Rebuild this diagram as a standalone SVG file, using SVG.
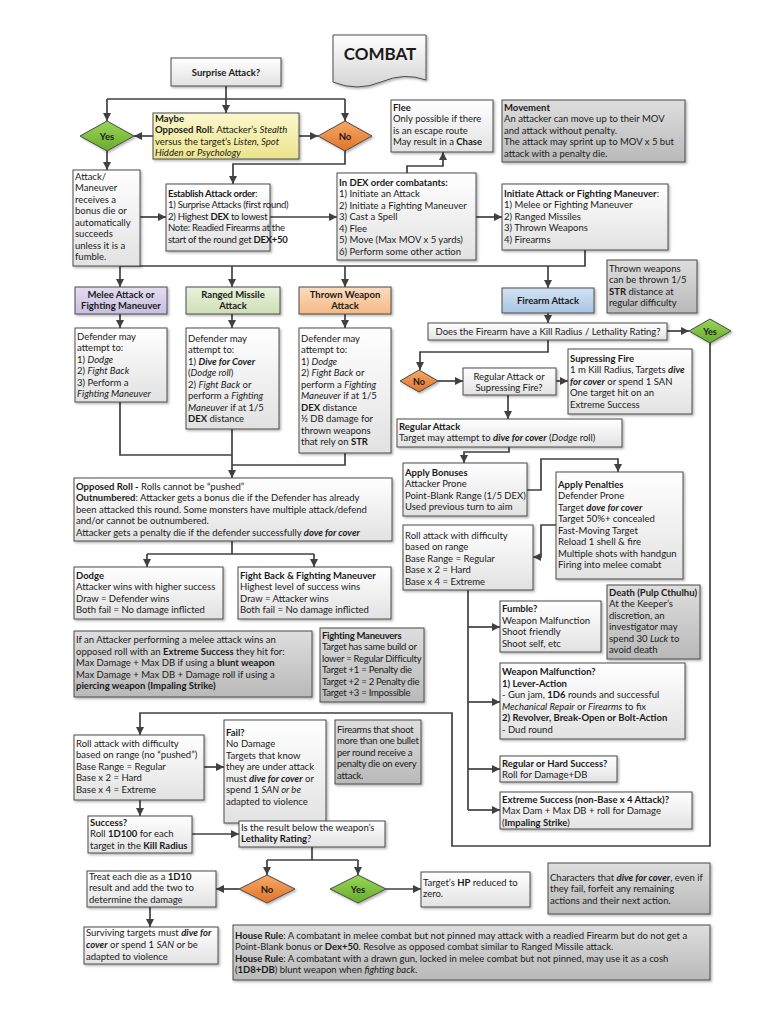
<svg xmlns="http://www.w3.org/2000/svg" width="768" height="1024" viewBox="0 0 768 1024">
<defs>
<linearGradient id="gW" x1="0" y1="0" x2="0" y2="1"><stop offset="0" stop-color="#ffffff"/><stop offset="1" stop-color="#e2e2e2"/></linearGradient>
<linearGradient id="gT" x1="0" y1="0" x2="0" y2="1"><stop offset="0" stop-color="#ffffff"/><stop offset="1" stop-color="#d4d4d4"/></linearGradient>
<linearGradient id="gG" x1="0" y1="0" x2="0" y2="1"><stop offset="0" stop-color="#dedede"/><stop offset="1" stop-color="#b9b9b9"/></linearGradient>
<linearGradient id="gY" x1="0" y1="0" x2="0" y2="1"><stop offset="0" stop-color="#fbf8cf"/><stop offset="1" stop-color="#ece38c"/></linearGradient>
<linearGradient id="gP" x1="0" y1="0" x2="0" y2="1"><stop offset="0" stop-color="#e3ddf0"/><stop offset="1" stop-color="#c9bfe0"/></linearGradient>
<linearGradient id="gR" x1="0" y1="0" x2="0" y2="1"><stop offset="0" stop-color="#e9f1dc"/><stop offset="1" stop-color="#cfdfb6"/></linearGradient>
<linearGradient id="gO" x1="0" y1="0" x2="0" y2="1"><stop offset="0" stop-color="#fcdcc0"/><stop offset="1" stop-color="#f4b984"/></linearGradient>
<linearGradient id="gB" x1="0" y1="0" x2="0" y2="1"><stop offset="0" stop-color="#d3e3f3"/><stop offset="1" stop-color="#a8c5e3"/></linearGradient>
<linearGradient id="gYes" x1="0" y1="0" x2="0" y2="1"><stop offset="0" stop-color="#9ad657"/><stop offset="1" stop-color="#68ab2c"/></linearGradient>
<linearGradient id="gNo" x1="0" y1="0" x2="0" y2="1"><stop offset="0" stop-color="#f6a867"/><stop offset="1" stop-color="#e0742a"/></linearGradient>
<marker id="ar" viewBox="0 0 10 10" refX="10" refY="5" markerWidth="8" markerHeight="8" markerUnits="userSpaceOnUse" orient="auto"><path d="M0,0 L10,5 L0,10 z" fill="#404040"/></marker>
<filter id="sh" x="-10%" y="-10%" width="130%" height="140%"><feDropShadow dx="1.5" dy="1.5" stdDeviation="1" flood-color="#000" flood-opacity="0.3"/></filter>
</defs>
<style>
.n rect, .n polygon, .n path { stroke:#4a4a4a; stroke-width:1; filter:url(#sh); }
.w { fill:url(#gW); } .g { fill:url(#gG); }
text { font-family: Lato, "Liberation Sans", sans-serif; font-size:9.5px; fill:#1a1a1a; }
.b { font-weight:700; } .i { font-style:italic; } .bi { font-weight:700; font-style:italic; }
.c { text-anchor:middle; }
.tight text { letter-spacing:-0.25px; }
.cn path { fill:none; stroke:#404040; stroke-width:1.7; }
.cn path.a { marker-end:url(#ar); }
</style>
<rect width="768" height="1024" fill="#ffffff"/>

<g id="connectors" class="cn">
<path d="M226,86 V99"/>
<path d="M107,99 H345"/>
<path class="a" d="M107,99 V121"/>
<path class="a" d="M226,99 V113"/>
<path class="a" d="M345,99 V121"/>
<path class="a" d="M153,136 H134"/>
<path class="a" d="M299,136 H318"/>
<path class="a" d="M107,151 V170"/>
<path class="a" d="M345,151 V164 H233 V184"/>
<path class="a" d="M140,217 H166"/>
<path class="a" d="M270,217 H337"/>
<path class="a" d="M407,173 V166 H443 V152"/>
<path class="a" d="M476,217 H502"/>
<path d="M585,250 V266 H120"/>
<path class="a" d="M120,266 V287"/>
<path class="a" d="M232,266 V287"/>
<path class="a" d="M345,266 V287"/>
<path class="a" d="M548,266 V288"/>
<path class="a" d="M120,314 V328"/>
<path class="a" d="M232,314 V328"/>
<path class="a" d="M345,314 V328"/>
<path d="M120,402 V455 H232"/>
<path d="M345,453 V465 H232"/>
<path class="a" d="M232,429 V478"/>
<path d="M232,541 V554"/>
<path d="M147,554 H314"/>
<path class="a" d="M147,554 V567"/>
<path class="a" d="M314,554 V567"/>
<path class="a" d="M548,313 V323"/>
<path class="a" d="M667,331 H689"/>
<path class="a" d="M548,340 V352 H420 V370"/>
<path class="a" d="M438,381 H463"/>
<path class="a" d="M556,381 H568"/>
<path class="a" d="M508,395 V419"/>
<path class="a" d="M509,447 V452 H464 V463"/>
<path class="a" d="M527,490 H541 V459 H618 V472"/>
<path class="a" d="M556,525 H541 V557 H533"/>
<path d="M468,590 V810"/>
<path class="a" d="M468,627 H500"/>
<path class="a" d="M468,702 H500"/>
<path class="a" d="M468,769 H500"/>
<path class="a" d="M468,810 H500"/>
<path class="a" d="M710,343 V846 H452 V713 H140 V735"/>
<path class="a" d="M204,767 H224"/>
<path class="a" d="M140,800 V816"/>
<path class="a" d="M192,834 H239"/>
<path d="M312,847 V860"/>
<path d="M267,860 H358"/>
<path class="a" d="M267,860 V875"/>
<path class="a" d="M358,860 V875"/>
<path class="a" d="M239,889 H216"/>
<path class="a" d="M386,889 H421"/>
<path class="a" d="M150,907 V927"/>
</g>

<g id="title" class="n"><path d="M333,35 H426 V80 Q404,72 381,82 Q357,92 333,82 Z" fill="url(#gT)"/><text x="380" y="60" class="c b" style="font-size:17px">COMBAT</text></g>

<g id="surprise" class="n"><rect x="171" y="58" width="110" height="28" class="w"/><text x="226" y="75.5" class="c b">Surprise Attack?</text></g>

<g id="maybe" class="n"><rect x="153" y="113" width="146" height="46" fill="url(#gY)"/>
<text x="155" y="121.5"><tspan class="b">Maybe</tspan></text>
<text x="155" y="133"><tspan class="b">Opposed Roll</tspan>: Attacker’s <tspan class="i">Stealth</tspan></text>
<text x="155" y="144.5">versus the target’s <tspan class="i">Listen, Spot</tspan></text>
<text x="155" y="156"><tspan class="i">Hidden</tspan> or <tspan class="i">Psychology</tspan></text></g>

<g id="yes1" class="n"><polygon points="80,136 107,121 134,136 107,151" fill="url(#gYes)"/><text x="107" y="139.5" class="c b">Yes</text></g>
<g id="no1" class="n"><polygon points="318,136 345,121 372,136 345,151" fill="url(#gNo)"/><text x="345" y="139.5" class="c b">No</text></g>

<g id="attackManeuver" class="n"><rect x="73" y="170" width="67" height="96" class="w"/>
<text x="75" y="179.5">Attack/</text><text x="75" y="191">Maneuver</text><text x="75" y="202.5">receives a</text><text x="75" y="214">bonus die or</text><text x="75" y="225.5">automatically</text><text x="75" y="237">succeeds</text><text x="75" y="248.5">unless it is a</text><text x="75" y="260">fumble.</text></g>

<g id="establish" class="n tight"><rect x="166" y="184" width="104" height="67" class="w"/>
<text x="168" y="196.5"><tspan class="b">Establish Attack order</tspan>:</text>
<text x="168" y="208">1) Surprise Attacks (first round)</text>
<text x="168" y="219.5">2) Highest <tspan class="b">DEX</tspan> to lowest</text>
<text x="168" y="231">Note: Readied Firearms at the</text>
<text x="168" y="242.5">start of the round get <tspan class="b">DEX+50</tspan></text></g>

<g id="dexOrder" class="n"><rect x="337" y="173" width="139" height="87" class="w"/>
<text x="339" y="185.5" class="b">In DEX order combatants:</text>
<text x="339" y="197">1) Initiate an Attack</text>
<text x="339" y="208.5">2) Initiate a Fighting Maneuver</text>
<text x="339" y="220">3) Cast a Spell</text>
<text x="339" y="231.5">4) Flee</text>
<text x="339" y="243">5) Move (Max MOV x 5 yards)</text>
<text x="339" y="254.5">6) Perform some other action</text></g>

<g id="flee" class="n"><rect x="391" y="100" width="102" height="52" class="w"/>
<text x="393" y="110.5" class="b">Flee</text>
<text x="393" y="122">Only possible if there</text>
<text x="393" y="133.5">is an escape route</text>
<text x="393" y="145">May result in a <tspan class="b">Chase</tspan></text></g>

<g id="movement" class="n"><rect x="502" y="100" width="183" height="62" class="g"/>
<text x="504" y="110.5" class="b">Movement</text>
<text x="504" y="122">An attacker can move up to their MOV</text>
<text x="504" y="133.5">and attack without penalty.</text>
<text x="504" y="145">The attack may sprint up to MOV x 5 but</text>
<text x="504" y="156.5">attack with a penalty die.</text></g>

<g id="initiate" class="n"><rect x="502" y="184" width="166" height="66" class="w"/>
<text x="504" y="196.5"><tspan class="b">Initiate Attack or Fighting Maneuver</tspan>:</text>
<text x="504" y="208">1) Melee or Fighting Maneuver</text>
<text x="504" y="219.5">2) Ranged Missiles</text>
<text x="504" y="231">3) Thrown Weapons</text>
<text x="504" y="242.5">4) Firearms</text></g>

<g id="thrownNote" class="n"><rect x="607" y="260" width="90" height="53" class="g"/>
<text x="609" y="271.5">Thrown weapons</text>
<text x="609" y="283">can be thrown 1/5</text>
<text x="609" y="294.5"><tspan class="b">STR</tspan> distance at</text>
<text x="609" y="306">regular difficulty</text></g>

<g id="melee" class="n"><rect x="75" y="287" width="92" height="27" fill="url(#gP)"/><text x="121" y="297.5" class="c b">Melee Attack or</text><text x="121" y="309" class="c b">Fighting Maneuver</text></g>
<g id="ranged" class="n"><rect x="186" y="287" width="94" height="27" fill="url(#gR)"/><text x="233" y="297.5" class="c b">Ranged Missile</text><text x="233" y="309" class="c b">Attack</text></g>
<g id="thrown" class="n"><rect x="299" y="287" width="92" height="27" fill="url(#gO)"/><text x="345" y="297.5" class="c b">Thrown Weapon</text><text x="345" y="309" class="c b">Attack</text></g>
<g id="firearm" class="n"><rect x="502" y="288" width="92" height="25" fill="url(#gB)"/><text x="548" y="304" class="c b">Firearm Attack</text></g>

<g id="meleeDef" class="n"><rect x="75" y="328" width="92" height="74" class="w"/>
<text x="77" y="339.5">Defender may</text><text x="77" y="351">attempt to:</text>
<text x="77" y="362.5">1) <tspan class="i">Dodge</tspan></text><text x="77" y="374">2) <tspan class="i">Fight Back</tspan></text>
<text x="77" y="385.5">3) Perform a</text><text x="77" y="397" class="i">Fighting Maneuver</text></g>

<g id="rangedDef" class="n"><rect x="186" y="328" width="93" height="101" class="w"/>
<text x="188" y="341.5">Defender may</text><text x="188" y="353">attempt to:</text>
<text x="188" y="364.5">1) <tspan class="bi">Dive for Cover</tspan></text>
<text x="188" y="376">(<tspan class="i">Dodge roll</tspan>)</text>
<text x="188" y="387.5">2) <tspan class="i">Fight Back</tspan> or</text>
<text x="188" y="399">perform a <tspan class="i">Fighting</tspan></text>
<text x="188" y="410.5"><tspan class="i">Maneuver</tspan> if at 1/5</text>
<text x="188" y="422"><tspan class="b">DEX</tspan> distance</text></g>

<g id="thrownDef" class="n"><rect x="299" y="328" width="92" height="125" class="w"/>
<text x="301" y="341.5">Defender may</text><text x="301" y="353">attempt to:</text>
<text x="301" y="364.5">1) <tspan class="i">Dodge</tspan></text>
<text x="301" y="376">2) <tspan class="i">Fight Back</tspan> or</text>
<text x="301" y="387.5">perform a <tspan class="i">Fighting</tspan></text>
<text x="301" y="399"><tspan class="i">Maneuver</tspan> if at 1/5</text>
<text x="301" y="410.5"><tspan class="b">DEX</tspan> distance</text>
<text x="301" y="422">½ DB damage for</text>
<text x="301" y="433.5">thrown weapons</text>
<text x="301" y="445">that rely on <tspan class="b">STR</tspan></text></g>

<g id="killRadiusQ" class="n"><rect x="428" y="323" width="239" height="17" class="w"/><text x="548" y="334.5" class="c">Does the Firearm have a Kill Radius / Lethality Rating?</text></g>
<g id="yes2" class="n"><polygon points="689,331 710,319 731,331 710,343" fill="url(#gYes)"/><text x="710" y="334.5" class="c b" style="font-size:9px">Yes</text></g>
<g id="no2" class="n"><polygon points="400,381 419,370 438,381 419,392" fill="url(#gNo)"/><text x="419" y="384.5" class="c b" style="font-size:9px">No</text></g>

<g id="regOrSup" class="n"><rect x="463" y="368" width="93" height="27" class="w"/><text x="509" y="379.5" class="c">Regular Attack or</text><text x="509" y="391" class="c">Supressing Fire?</text></g>

<g id="supFire" class="n"><rect x="568" y="349" width="124" height="65" class="w"/>
<text x="570" y="361.5" class="b">Supressing Fire</text>
<text x="570" y="373">1 m Kill Radius, Targets <tspan class="bi">dive</tspan></text>
<text x="570" y="384.5"><tspan class="bi">for cover</tspan> or spend 1 SAN</text>
<text x="570" y="396">One target hit on an</text>
<text x="570" y="407.5">Extreme Success</text></g>

<g id="regAttack" class="n"><rect x="397" y="419" width="225" height="28" class="w"/>
<text x="399" y="429.5" class="b">Regular Attack</text>
<text x="399" y="441">Target may attempt to <tspan class="bi">dive for cover</tspan> (<tspan class="i">Dodge</tspan> roll)</text></g>

<g id="bonuses" class="n"><rect x="403" y="463" width="124" height="53" class="w"/>
<text x="405" y="475.5" class="b">Apply Bonuses</text>
<text x="405" y="487">Attacker Prone</text>
<text x="405" y="498.5">Point-Blank Range (1/5 DEX)</text>
<text x="405" y="510">Used previous turn to aim</text></g>

<g id="penalties" class="n"><rect x="556" y="472" width="127" height="107" class="w"/>
<text x="558" y="487.5" class="b">Apply Penalties</text>
<text x="558" y="499">Defender Prone</text>
<text x="558" y="510.5">Target <tspan class="bi">dove for cover</tspan></text>
<text x="558" y="522">Target 50%+ concealed</text>
<text x="558" y="533.5">Fast-Moving Target</text>
<text x="558" y="545">Reload 1 shell &amp; fire</text>
<text x="558" y="556.5">Multiple shots with handgun</text>
<text x="558" y="568">Firing into melee comabt</text></g>

<g id="rollFirearm" class="n"><rect x="403" y="525" width="130" height="65" class="w"/>
<text x="405" y="538.5">Roll attack with difficulty</text>
<text x="405" y="550">based on range</text>
<text x="405" y="561.5">Base Range = Regular</text>
<text x="405" y="573">Base x 2 = Hard</text>
<text x="405" y="584.5">Base x 4 = Extreme</text></g>

<g id="opposed" class="n"><rect x="74" y="478" width="318" height="63" class="w"/>
<text x="76" y="489.5"><tspan class="b">Opposed Roll -</tspan> Rolls cannot be “pushed”</text>
<text x="76" y="501"><tspan class="b">Outnumbered</tspan>: Attacker gets a bonus die if the Defender has already</text>
<text x="76" y="512.5">been attacked this round. Some monsters have multiple attack/defend</text>
<text x="76" y="524">and/or cannot be outnumbered.</text>
<text x="76" y="535.5">Attacker gets a penalty die if the defender successfully <tspan class="bi">dove for cover</tspan></text></g>

<g id="dodge" class="n"><rect x="74" y="567" width="149" height="52" class="w"/>
<text x="76" y="578.5" class="b">Dodge</text>
<text x="76" y="590">Attacker wins with higher success</text>
<text x="76" y="601.5">Draw = Defender wins</text>
<text x="76" y="613">Both fail = No damage inflicted</text></g>

<g id="fightBack" class="n"><rect x="238" y="567" width="153" height="52" class="w"/>
<text x="240" y="578.5" class="b">Fight Back &amp; Fighting Maneuver</text>
<text x="240" y="590">Highest level of success wins</text>
<text x="240" y="601.5">Draw = Attacker wins</text>
<text x="240" y="613">Both fail = No damage inflicted</text></g>

<g id="meleeExtreme" class="n"><rect x="74" y="631" width="238" height="66" class="g"/>
<text x="76" y="643">If an Attacker performing a melee attack wins an</text>
<text x="76" y="654.5">opposed roll with an <tspan class="b">Extreme Success</tspan> they hit for:</text>
<text x="76" y="666">Max Damage + Max DB if using a <tspan class="b">blunt weapon</tspan></text>
<text x="76" y="677.5">Max Damage + Max DB + Damage roll if using a</text>
<text x="76" y="689" class="b">piercing weapon (Impaling Strike)</text></g>

<g id="fightingManeuvers" class="n tight"><rect x="320" y="628" width="104" height="74" class="g"/>
<text x="322" y="638.5" class="b">Fighting Maneuvers</text>
<text x="322" y="650">Target has same build or</text>
<text x="322" y="661.5">lower = Regular Difficulty</text>
<text x="322" y="673">Target +1 = Penalty die</text>
<text x="322" y="684.5">Target +2 = 2 Penalty die</text>
<text x="322" y="696">Target +3 = Impossible</text></g>

<g id="fumble" class="n"><rect x="500" y="601" width="101" height="51" class="w"/>
<text x="502" y="612" class="b">Fumble?</text>
<text x="502" y="623.5">Weapon Malfunction</text>
<text x="502" y="635">Shoot friendly</text>
<text x="502" y="646.5">Shoot self, etc</text></g>

<g id="death" class="n"><rect x="607" y="585" width="93" height="74" class="g"/>
<text x="609" y="595.5" class="b">Death (Pulp Cthulhu)</text>
<text x="609" y="607">At the Keeper’s</text>
<text x="609" y="618.5">discretion, an</text>
<text x="609" y="630">investigator may</text>
<text x="609" y="641.5">spend 30 <tspan class="i">Luck</tspan> to</text>
<text x="609" y="653">avoid death</text></g>

<g id="malfunction" class="n"><rect x="500" y="663" width="185" height="76" class="w"/>
<text x="502" y="675" class="b">Weapon Malfunction?</text>
<text x="502" y="686.5" class="b">1) Lever-Action</text>
<text x="502" y="698">- Gun jam, <tspan class="b">1D6</tspan> rounds and successful</text>
<text x="502" y="709.5"><tspan class="i">Mechanical Repair</tspan> or <tspan class="i">Firearms</tspan> to fix</text>
<text x="502" y="721" class="b">2)  Revolver, Break-Open or Bolt-Action</text>
<text x="502" y="732.5">- Dud round</text></g>

<g id="regHard" class="n"><rect x="500" y="756" width="117" height="26" class="w"/>
<text x="502" y="766.5" class="b">Regular or Hard Success?</text>
<text x="502" y="778">Roll for Damage+DB</text></g>

<g id="extreme" class="n"><rect x="500" y="792" width="192" height="37" class="w"/>
<text x="502" y="802.5" class="b">Extreme Success (non-Base x 4 Attack)?</text>
<text x="502" y="814">Max Dam + Max DB + roll for Damage</text>
<text x="502" y="825.5">(<tspan class="b">Impaling Strike</tspan>)</text></g>

<g id="rollNoPush" class="n"><rect x="74" y="735" width="130" height="65" class="w"/>
<text x="76" y="746.5">Roll attack with difficulty</text>
<text x="76" y="758">based on range (no “pushed”)</text>
<text x="76" y="769.5">Base Range = Regular</text>
<text x="76" y="781">Base x 2 = Hard</text>
<text x="76" y="792.5">Base x 4 = Extreme</text></g>

<g id="fail" class="n"><rect x="224" y="720" width="102" height="103" class="w"/>
<text x="226" y="735.5" class="b">Fail?</text>
<text x="226" y="747">No Damage</text>
<text x="226" y="758.5">Targets that know</text>
<text x="226" y="770">they are under attack</text>
<text x="226" y="781.5">must <tspan class="bi">dive for cover</tspan> or</text>
<text x="226" y="793">spend 1 <tspan class="i">SAN or be</tspan></text>
<text x="226" y="804.5">adapted to violence</text></g>

<g id="multiBullet" class="n tight"><rect x="335" y="720" width="86" height="64" class="g"/>
<text x="337" y="732.5">Firearms that shoot</text>
<text x="337" y="744">more than one bullet</text>
<text x="337" y="755.5">per round receive a</text>
<text x="337" y="767">penalty die on every</text>
<text x="337" y="778.5">attack.</text></g>

<g id="success" class="n"><rect x="88" y="816" width="104" height="37" class="w"/>
<text x="90" y="825.5" class="b">Success?</text>
<text x="90" y="837">Roll <tspan class="b">1D100</tspan> for each</text>
<text x="90" y="848.5">target in the <tspan class="b">Kill Radius</tspan></text></g>

<g id="lethality" class="n"><rect x="239" y="821" width="146" height="26" class="w"/>
<text x="241" y="830.5">Is the result below the weapon’s</text>
<text x="241" y="842"><tspan class="b">Lethality Rating</tspan>?</text></g>

<g id="no3" class="n"><polygon points="239,889 267,875 295,889 267,903" fill="url(#gNo)"/><text x="267" y="892.5" class="c b">No</text></g>
<g id="yes3" class="n"><polygon points="330,889 358,875 386,889 358,903" fill="url(#gYes)"/><text x="358" y="892.5" class="c b">Yes</text></g>

<g id="treat" class="n"><rect x="87" y="871" width="129" height="36" class="w"/>
<text x="89" y="879.5">Treat each die as a <tspan class="b">1D10</tspan></text>
<text x="89" y="891">result and add the two to</text>
<text x="89" y="902.5">determine the damage</text></g>

<g id="hpZero" class="n"><rect x="421" y="872" width="109" height="35" class="w"/>
<text x="423" y="885.5">Target’s <tspan class="b">HP</tspan> reduced to</text>
<text x="423" y="897">zero.</text></g>

<g id="characters" class="n"><rect x="548" y="863" width="162" height="51" class="g"/>
<text x="550" y="880.5">Characters that <tspan class="bi">dive for cover</tspan>, even if</text>
<text x="550" y="892">they fail, forfeit any remaining</text>
<text x="550" y="903.5">actions and their next action.</text></g>

<g id="surviving" class="n"><rect x="84" y="927" width="134" height="37" class="w"/>
<text x="86" y="935.5">Surviving targets must <tspan class="bi">dive for</tspan></text>
<text x="86" y="948"><tspan class="bi">cover</tspan> or spend 1 <tspan class="i">SAN</tspan> or be</text>
<text x="86" y="960">adapted to violence</text></g>

<g id="houseRule" class="n"><rect x="233" y="925" width="477" height="55" class="g"/>
<text x="235" y="938.5"><tspan class="b">House Rule</tspan>: A combatant in melee combat but not pinned may attack with a readied Firearm but do not get a</text>
<text x="235" y="950">Point-Blank bonus or <tspan class="b">Dex+50</tspan>. Resolve as opposed combat similar to Ranged Missile attack.</text>
<text x="235" y="961.5"><tspan class="b">House Rule</tspan>: A combatant with a drawn gun, locked in melee combat but not pinned, may use it as a cosh</text>
<text x="235" y="973">(<tspan class="b">1D8+DB</tspan>) blunt weapon when <tspan class="i">fighting back</tspan>.</text></g>
</svg>
